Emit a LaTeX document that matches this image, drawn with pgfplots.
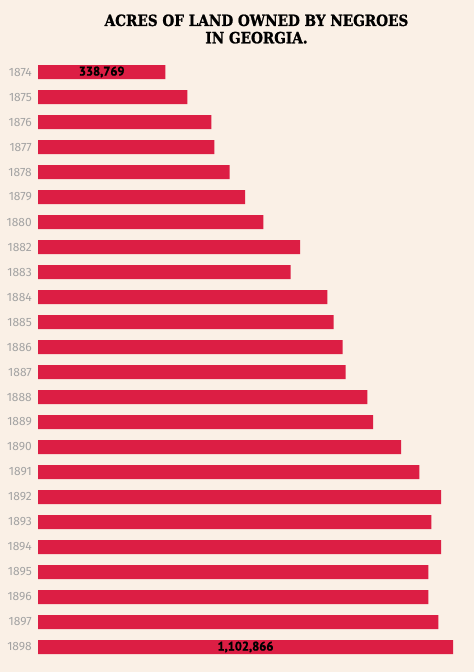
\documentclass[border=0pt]{standalone}
\usepackage{fontspec}
\usepackage{pgfplots}
\pgfplotsset{compat=1.18}
\usepackage{pgfplotstable}
\setmainfont{Fira Sans}
\newfontfamily\titlefont{DejaVu Serif}[FakeStretch=0.88,FakeBold=1.2]
\newfontfamily\labelfont{PT Sans}[FakeBold=1.2]
\definecolor{bgc}{HTML}{FAF0E6}
\definecolor{barc}{HTML}{DC1E44}
\definecolor{yearc}{HTML}{A3A3A3}
\pgfplotstableread{
idx year value
0 1874 338769
1 1875 396658
2 1876 460600
3 1877 468500
4 1878 509400
5 1879 550100
6 1880 598800
7 1882 696300
8 1883 671500
9 1884 768900
10 1885 785800
11 1886 809700
12 1887 817700
13 1888 875200
14 1889 890300
15 1890 964700
16 1891 1013400
17 1892 1071000
18 1893 1045300
19 1894 1071000
20 1895 1037300
21 1896 1037300
22 1897 1063900
23 1898 1102866
}\landdata
\pgfplotstableread{
x y label
169384 0 338,769
551433 23 1,102,866
}\labeldata
\begin{document}
\begin{tikzpicture}
\fill[bgc] (0,0) rectangle (474bp,672bp);
\useasboundingbox (0,0) rectangle (474bp,672bp);
\node[anchor=base,inner sep=0pt] at (256.5bp,646bp) {\titlefont\bfseries\fontsize{15.5bp}{18bp}\selectfont ACRES OF LAND OWNED BY NEGROES};
\node[anchor=base,inner sep=0pt] at (256.5bp,628.7bp) {\titlefont\bfseries\fontsize{15.5bp}{18bp}\selectfont IN GEORGIA.};
\begin{axis}[
  at={(38bp,12.5bp)}, anchor=south west,
  scale only axis, width=432.74bp, height=600bp,
  xmin=0, xmax=1150000, ymin=-0.5, ymax=23.5,
  y dir=reverse, clip=false,
  axis line style={draw=none},
  major tick length=0pt,
  xtick=\empty,
  ytick={0,...,23},
  yticklabels={1874,1875,1876,1877,1878,1879,1880,1882,1883,1884,1885,1886,1887,1888,1889,1890,1891,1892,1893,1894,1895,1896,1897,1898},
  yticklabel style={inner sep=0pt, xshift=-6bp, text=yearc, font=\fontsize{12bp}{13bp}\selectfont},
]
\addplot[xbar, bar width=0.56, fill=barc, draw=none] table[x=value, y=idx] {\landdata};
\addplot[draw=none, nodes near coords, point meta=explicit symbolic,
  every node near coord/.append style={anchor=center, inner sep=0pt, font=\labelfont\bfseries\fontsize{12.5bp}{13bp}\selectfont, text=black}]
  table[x=x, y=y, meta=label] {\labeldata};
\end{axis}
\end{tikzpicture}
\end{document}
